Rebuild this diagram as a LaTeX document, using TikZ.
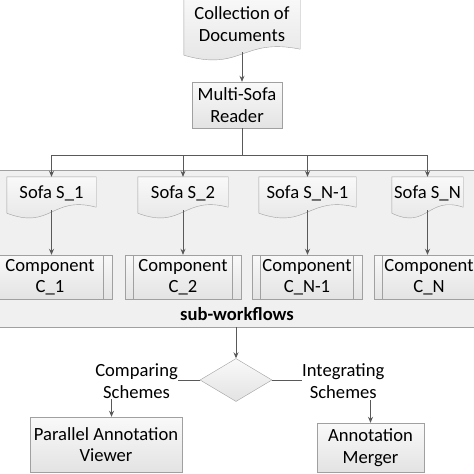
\documentclass[tikz,border=0pt]{standalone}
\usepackage{fontspec}
\setmainfont{Carlito}
\usetikzlibrary{arrows.meta,shapes.geometric,backgrounds,calc}

\definecolor{boxgray}{HTML}{A0A0A0}
\definecolor{linegray}{HTML}{595959}
\definecolor{filltop}{HTML}{F9F9F9}
\definecolor{fillbot}{HTML}{E3E3E3}
\definecolor{panelfill}{HTML}{F0F0F0}

\tikzset{
  plainbox/.style={draw=boxgray, top color=filltop, bottom color=fillbot, align=center, inner sep=0pt},
  docnode/.style={inner sep=0pt, align=center},
  docshape/.style={draw=boxgray, top color=filltop, bottom color=fillbot},
  compbox/.style={plainbox, minimum height=44pt,
    path picture={\draw[boxgray]
      ([xshift=8.5pt]path picture bounding box.north west) -- ([xshift=8.5pt]path picture bounding box.south west)
      ([xshift=-8.5pt]path picture bounding box.north east) -- ([xshift=-8.5pt]path picture bounding box.south east);}},
  line/.style={draw=linegray, line width=0.8pt},
  arr/.style={line, -{Stealth[length=6pt,width=5pt]}},
}

% wavy bottom of a document node
\newcommand{\docoutline}[1]{%
  \path[docshape] (#1.north west) -- (#1.north east) -- ([yshift=3pt]#1.south east)
    .. controls ([yshift=15pt]#1.south) and ([yshift=-20pt]#1.south) .. ([yshift=-3pt]#1.south west) -- cycle;}

\begin{document}
\begin{tikzpicture}[x=1pt,y=-1pt,font=\fontsize{18.6pt}{21.5pt}\selectfont]
\clip (0,0) rectangle (474,474);

\node[docnode, minimum width=116pt, minimum height=56pt] (docs) at (242,24) {Collection of\\Documents};
\node[plainbox, minimum width=90pt, minimum height=46pt] (reader) at (237,105) {Multi-Sofa\\Reader};
\coordinate (bus) at (242,155);

\foreach \i/\x/\w/\t in {1/51.5/89/S\_1, 2/183/90/S\_2, 3/307.5/97/S\_N-1, 4/427.5/71/S\_N}
  \node[docnode, minimum width=\w pt, minimum height=33pt] (sofa\i) at (\x,193.5) {Sofa \t};

\foreach \i/\x/\w/\t in {1/50/124/C\_1, 2/183/116/C\_2, 3/307/110/C\_N-1, 4/429/110/C\_N}
  \node[compbox, minimum width=\w pt] (comp\i) at (\x,277) {Component\\\t};

\node[font=\fontsize{18.6pt}{21.5pt}\selectfont\bfseries] (subflows) at (237,314) {sub-workflows};

\begin{scope}[on background layer]
  \node[draw=boxgray, fill=panelfill, minimum width=476pt, minimum height=157pt, inner sep=0pt] (panel) at (237,248.5) {};
  \foreach \n in {docs,sofa1,sofa2,sofa3,sofa4} \docoutline{\n};
\end{scope}

\node[diamond, draw=boxgray, top color=filltop, bottom color=fillbot, minimum width=72pt, minimum height=43pt, inner sep=0pt] (choice) at (236,380) {};
\node[anchor=east, align=center, inner sep=0pt] (cmp) at (178,381) {Comparing\\Schemes};
\node[anchor=west, align=center, inner sep=0pt] (intg) at (302,381) {Integrating\\Schemes};
\node[plainbox, minimum width=152pt, minimum height=55pt] (viewer) at (106,444.5) {Parallel Annotation\\Viewer};
\node[plainbox, minimum width=107pt, minimum height=49pt] (merger) at (370.5,447.5) {Annotation\\Merger};

\draw[arr] (docs.south) -- (docs.south |- reader.north);
\draw[line] (reader.south -| bus) -- (bus);
\draw[line] (sofa1.north |- bus) -- (sofa4.north |- bus);
\foreach \i in {1,...,4} {
  \draw[arr] (sofa\i.north |- bus) -- (sofa\i.north);
  \draw[arr] (sofa\i.south) -- (sofa\i.south |- comp\i.north);
}
\draw[arr] (panel.south -| choice) -- (choice.north);
\draw[line] (choice.west) -- (cmp.east |- choice.west);
\draw[line] (choice.east) -- (intg.west |- choice.east);
\draw[arr] ([xshift=-25pt,yshift=-1pt]cmp.south) -- ([xshift=-25pt]cmp.south |- viewer.north);
\draw[arr] (merger.north |- intg.south) ++(0,2) -- (merger.north);
\end{tikzpicture}
\end{document}
